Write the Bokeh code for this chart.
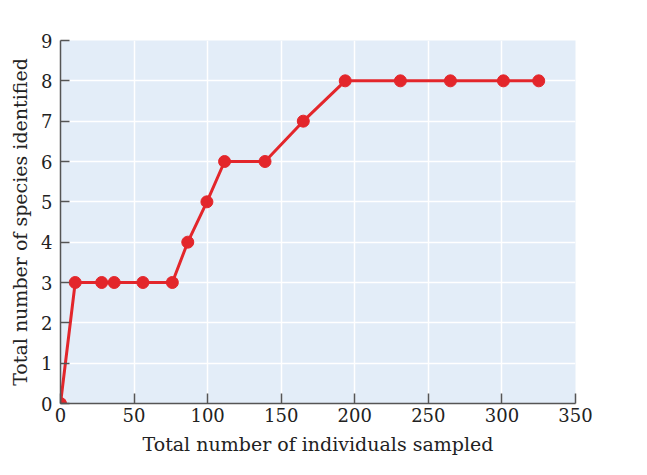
from bokeh.plotting import figure
from bokeh.models import Range1d, FixedTicker
from bokeh.embed import file_html
from bokeh.resources import INLINE

individuals = [0, 10, 28, 36.5, 56, 76, 86.5, 99.5, 111.5, 139, 165, 193.5, 231, 265, 301, 325]
species = [0, 3, 3, 3, 3, 3, 4, 5, 6, 6, 7, 8, 8, 8, 8, 8]
x_ticks = [0, 50, 100, 150, 200, 250, 300, 350]
y_ticks = [0, 1, 2, 3, 4, 5, 6, 7, 8, 9]

FONT = "DejaVu Serif"

p = figure(frame_width=515, frame_height=363, output_backend="svg", toolbar_location=None,
           x_range=Range1d(0, 350), y_range=Range1d(0, 9),
           min_border_left=60, min_border_right=50, min_border_top=40, min_border_bottom=56)
p.outline_line_color = None
p.background_fill_color = "#E3EDF8"
p.border_fill_color = "white"

for ax in (p.xaxis[0], p.yaxis[0]):
    ax.axis_line_color = "#555555"
    ax.axis_line_width = 1.5
    ax.major_tick_line_color = "#555555"
    ax.major_tick_line_width = 1.5
    ax.minor_tick_line_color = None
    ax.major_tick_out = 0
    ax.major_label_text_font = FONT
    ax.major_label_text_font_size = "18px"
    ax.major_label_text_color = "#222222"
    ax.axis_label_text_font = FONT
    ax.axis_label_text_font_size = "19px"
    ax.axis_label_text_font_style = "normal"
    ax.axis_label_text_color = "#222222"

p.xaxis.ticker = FixedTicker(ticks=x_ticks)
p.yaxis.ticker = FixedTicker(ticks=y_ticks)
p.xaxis.major_tick_in = 10
p.yaxis.major_tick_in = 9
p.xaxis.major_label_standoff = 4
p.yaxis.major_label_standoff = 8
p.xaxis.axis_label = "Total number of individuals sampled"
p.yaxis.axis_label = "Total number of species identified"
p.xaxis.axis_label_standoff = 8
p.yaxis.axis_label_standoff = 7

p.xgrid.ticker = FixedTicker(ticks=x_ticks)
p.ygrid.ticker = FixedTicker(ticks=y_ticks)
p.grid.grid_line_color = "white"
p.grid.grid_line_width = 1.5

p.line(individuals, species, line_color="#E3262B", line_width=3)
p.scatter(individuals, species, size=12, fill_color="#E3262B", line_color="#E3262B")

open("out.html", "w").write(file_html(p, INLINE))
